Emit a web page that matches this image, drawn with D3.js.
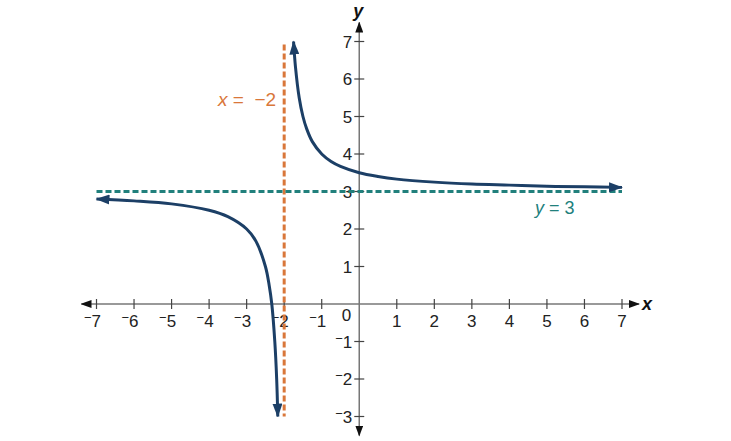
<!DOCTYPE html>
<html>
<head>
<meta charset="utf-8">
<script src="https://cdn.jsdelivr.net/npm/d3@7"></script>
<style>
  body { margin: 0; background: #fff; }
  text { font-family: "Liberation Sans", Arial, sans-serif; }
</style>
</head>
<body>
<svg id="mysvg" width="731" height="441"></svg>
<script>
// tick values on both axes
var xTicks = [-7, -6, -5, -4, -3, -2, -1, 1, 2, 3, 4, 5, 6, 7];
var yTicks = [-3, -2, -1, 1, 2, 3, 4, 5, 6, 7];

// points, right of the asymptote
var rightX = [-1.75, -1.7, -1.6, -1.5, -1.4, -1.25, -1, -0.75, -0.5, 0, 0.5, 1, 2, 3, 4, 5, 6, 7];
var rightY = [7, 6.33, 5.5, 5, 4.67, 4.33, 4, 3.8, 3.67, 3.5, 3.4, 3.33, 3.25, 3.2, 3.17, 3.14, 3.125, 3.11];

// left of the asymptote
var leftX = [-2.17, -2.2, -2.25, -2.33, -2.4, -2.5, -2.75, -3, -3.5, -4, -5, -6, -7];
var leftY = [-3, -2, -1, 0, 0.5, 1, 1.67, 2, 2.33, 2.5, 2.67, 2.75, 2.8];

var vAsym = -2;
var hAsym = 3;

var svg = d3.select("#mysvg");

var x = d3.scaleLinear().domain([-7, 7]).range([96.5, 622]);
var y = d3.scaleLinear().domain([-3, 7]).range([416.5, 41.5]);

var defs = svg.append("defs");
function arrowMarker(id, color, w, h) {
	defs.append("marker")
		.attr("id", id)
		.attr("viewBox", "0 0 " + w + " " + h)
		.attr("refX", w - 1)
		.attr("refY", h / 2)
		.attr("markerWidth", w)
		.attr("markerHeight", h)
		.attr("markerUnits", "userSpaceOnUse")
		.attr("orient", "auto-start-reverse")
		.append("path")
		.attr("d", "M0,0 L" + w + "," + (h / 2) + " L0," + h + " Z")
		.attr("fill", color);
}
arrowMarker("curvearrow", "#1c3f66", 14, 10);
arrowMarker("axisarrow", "#111", 11, 8);

// axes
var axisColor = "#777";
svg.append("line")
	.attr("x1", x(-7) - 15).attr("x2", x(7) + 17)
	.attr("y1", y(0)).attr("y2", y(0))
	.attr("stroke", axisColor).attr("stroke-width", 1.5)
	.attr("marker-start", "url(#axisarrow)")
	.attr("marker-end", "url(#axisarrow)");
svg.append("line")
	.attr("x1", x(0)).attr("x2", x(0))
	.attr("y1", y(7) - 19).attr("y2", y(-3) + 19)
	.attr("stroke", axisColor).attr("stroke-width", 1.5)
	.attr("marker-start", "url(#axisarrow)")
	.attr("marker-end", "url(#axisarrow)");

var g = svg.append("g");
g.selectAll(".xt").data(xTicks).enter().append("line")
	.attr("x1", function(d){ return x(d); }).attr("x2", function(d){ return x(d); })
	.attr("y1", y(0) - 5).attr("y2", y(0) + 5)
	.attr("stroke", "#444").attr("stroke-width", 1.2);
g.selectAll(".yt").data(yTicks).enter().append("line")
	.attr("x1", x(0) - 5).attr("x2", x(0) + 5)
	.attr("y1", function(d){ return y(d); }).attr("y2", function(d){ return y(d); })
	.attr("stroke", "#444").attr("stroke-width", 1.2);

// negative labels use a small raised minus, like the original
function tickLabel(sel, d) {
	if (d < 0) {
		sel.append("tspan").attr("font-size", 13).attr("dy", -5).text("\u2212");
		sel.append("tspan").attr("dy", 5).text(Math.abs(d));
	} else {
		sel.text(d);
	}
}

g.selectAll(".xl").data(xTicks).enter().append("text")
	.attr("x", function(d){ return x(d) + (d < 0 ? -4 : 0); })
	.attr("y", y(0) + 23)
	.attr("text-anchor", "middle")
	.attr("font-size", 17)
	.attr("fill", "#222")
	.each(function(d){ tickLabel(d3.select(this), d); });

g.selectAll(".yl").data(yTicks).enter().append("text")
	.attr("x", x(0) - 7)
	.attr("y", function(d){ return y(d) + 6; })
	.attr("text-anchor", "end")
	.attr("font-size", 17)
	.attr("fill", "#222")
	.each(function(d){ tickLabel(d3.select(this), d); });

g.append("text").attr("x", x(0) - 8).attr("y", y(0) + 17)
	.attr("text-anchor", "end").attr("font-size", 17).attr("fill", "#222").text("0");

svg.append("text").attr("x", x(7) + 20).attr("y", y(0) + 6)
	.attr("font-size", 18).attr("font-weight", "bold").attr("font-style", "italic")
	.attr("fill", "#111").text("x");
svg.append("text").attr("x", x(0) - 1).attr("y", 17)
	.attr("text-anchor", "middle")
	.attr("font-size", 18).attr("font-weight", "bold").attr("font-style", "italic")
	.attr("fill", "#111").text("y");

// asymptotes
svg.append("line")
	.attr("x1", x(vAsym)).attr("x2", x(vAsym))
	.attr("y1", y(7) + 3).attr("y2", y(-3))
	.attr("stroke", "#d9773a").attr("stroke-width", 3)
	.attr("stroke-dasharray", "6,3");
svg.append("line")
	.attr("x1", x(-7)).attr("x2", x(7))
	.attr("y1", y(hAsym)).attr("y2", y(hAsym))
	.attr("stroke", "#21807c").attr("stroke-width", 3)
	.attr("stroke-dasharray", "6,3");

var xl = svg.append("text").attr("x", x(vAsym) - 8).attr("y", 106)
	.attr("text-anchor", "end").attr("font-size", 19).attr("fill", "#d9773a");
xl.append("tspan").attr("font-style", "italic").text("x");
xl.append("tspan").text("\u00a0=\u00a0\u00a0\u22122");

var yl = svg.append("text").attr("x", 535).attr("y", 214)
	.attr("font-size", 18).attr("fill", "#21807c");
yl.append("tspan").attr("font-style", "italic").text("y");
yl.append("tspan").text("\u00a0=\u00a03");

// curve
var line = d3.line()
	.x(function(d){ return x(d[0]); })
	.y(function(d){ return y(d[1]); })
	.curve(d3.curveCatmullRom);

var right = d3.zip(rightX, rightY);
var left = d3.zip(leftX, leftY);

[right, left].forEach(function(pts) {
	svg.append("path")
		.attr("d", line(pts))
		.attr("fill", "none")
		.attr("stroke", "#1c3f66")
		.attr("stroke-width", 3)
		.attr("marker-start", "url(#curvearrow)")
		.attr("marker-end", "url(#curvearrow)");
});
</script>
</body>
</html>
